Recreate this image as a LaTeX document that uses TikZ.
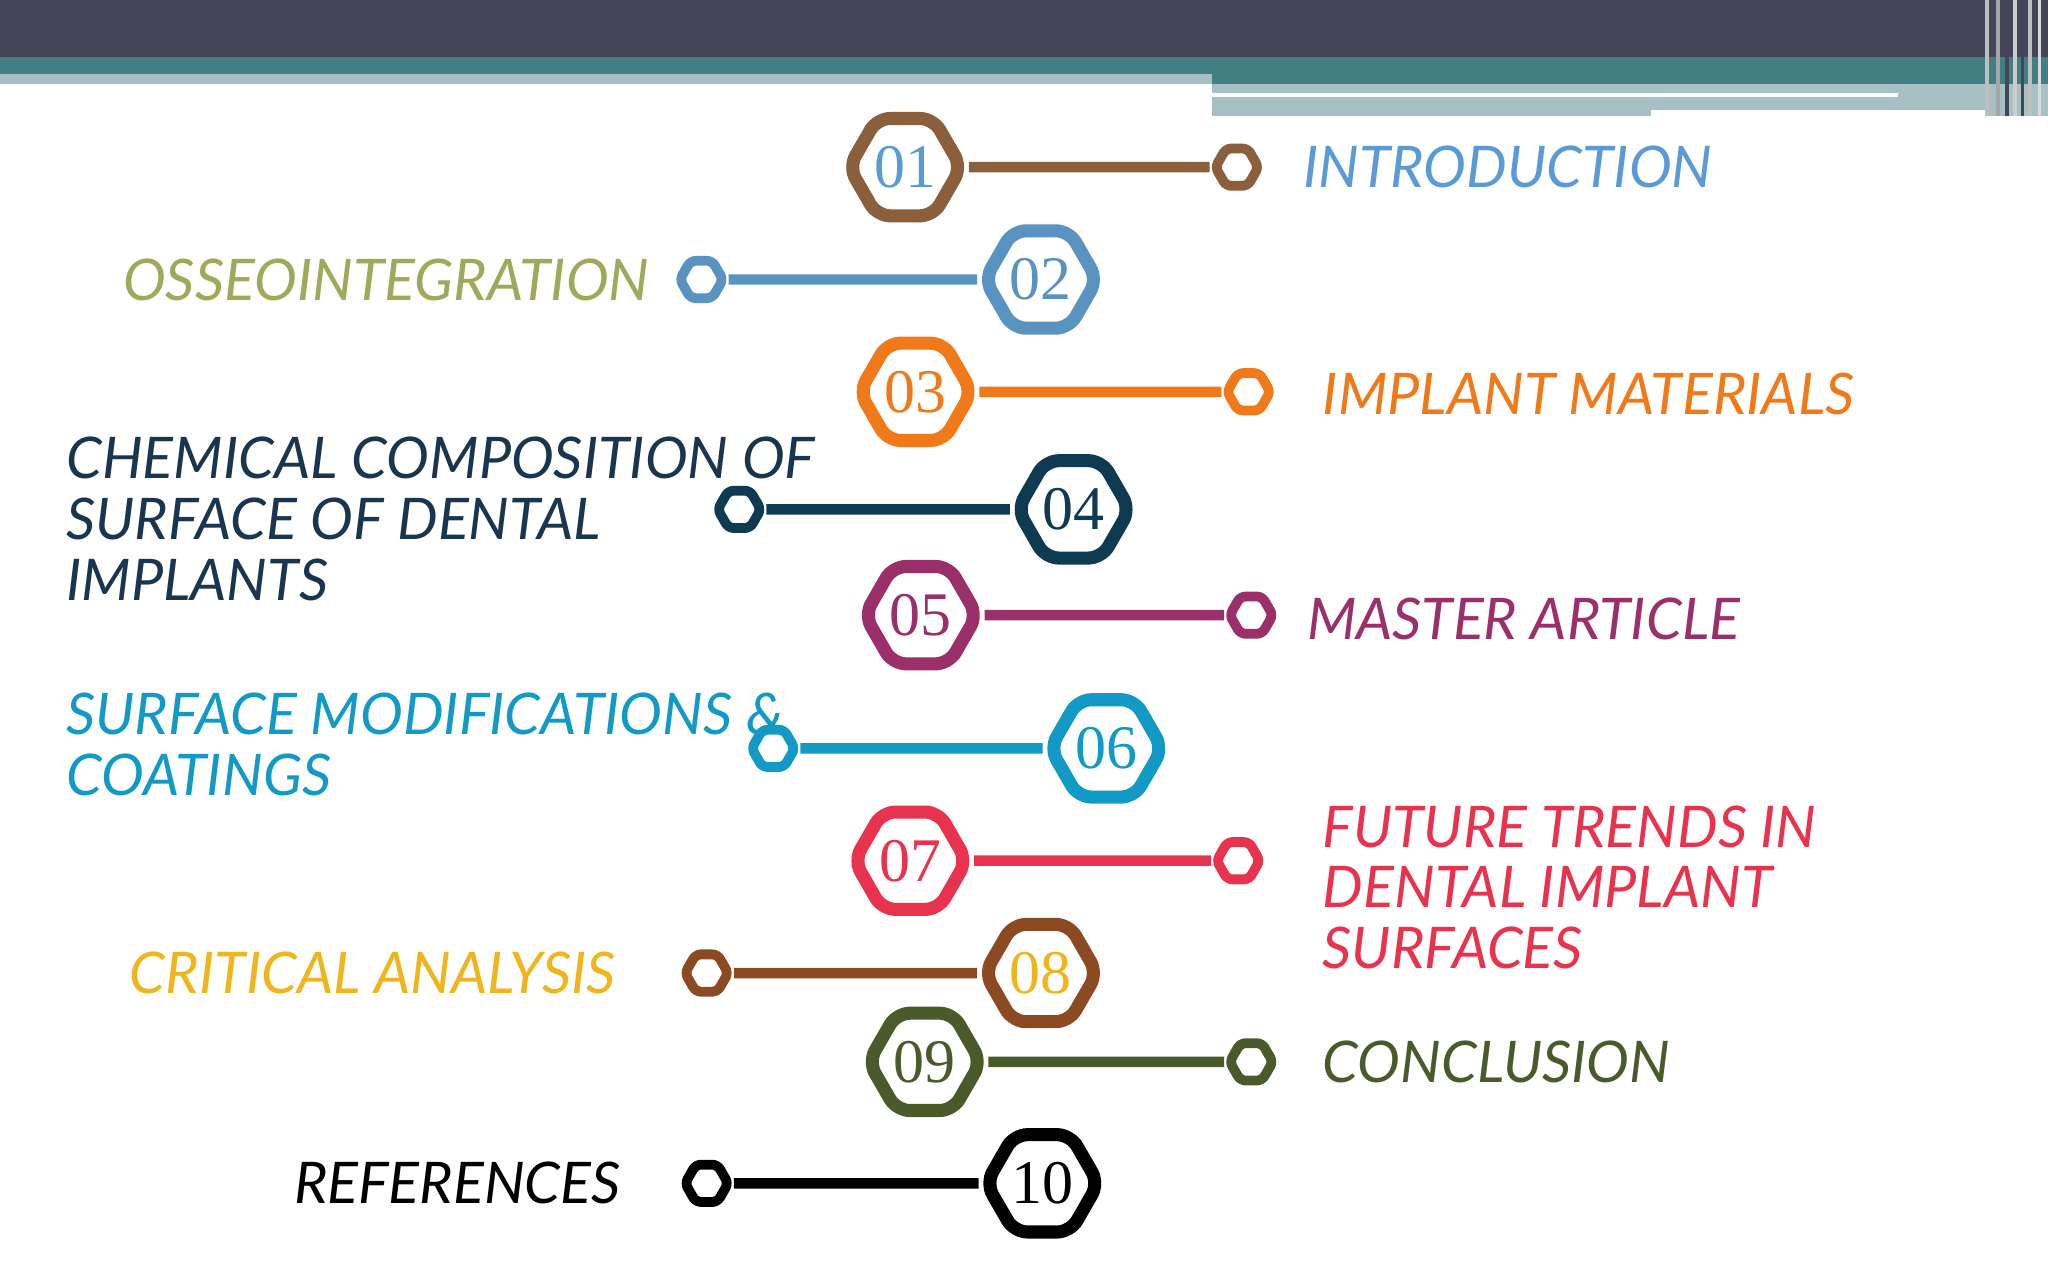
\documentclass[tikz,border=0pt]{standalone}
\usepackage{fontspec}
\setmainfont{Lato}
\newfontfamily\numfont{Liberation Serif}
\usetikzlibrary{shapes.geometric}
\begin{document}
\begin{tikzpicture}[x=0.01cm,y=-0.01cm,
  bighex/.style={regular polygon,regular polygon sides=6,minimum size=0.86cm,inner sep=0pt,line width=0.1cm,rounded corners=0.1cm,draw=#1,fill=white,font=\numfont\fontsize{13.5}{14}\selectfont},
  smallhex/.style={regular polygon,regular polygon sides=6,minimum size=0.33cm,inner sep=0pt,line width=0.075cm,rounded corners=0.04cm,draw=#1,fill=white},
  stem/.style={line width=0.08cm,draw=#1},
  lbl/.style={font=\itshape\fontsize{12.5}{13.2}\selectfont,inner sep=0pt,align=left}]
\definecolor{c1}{HTML}{8B5E3C}\definecolor{t1}{HTML}{5B9BD5}
\definecolor{c2}{HTML}{5B93C0}\definecolor{t2}{HTML}{9BAB5A}
\definecolor{c3}{HTML}{F07A1A}
\definecolor{c4}{HTML}{0E3A52}\definecolor{t4}{HTML}{1A3550}
\definecolor{c5}{HTML}{9B2F6A}
\definecolor{c6}{HTML}{1399C6}
\definecolor{c7}{HTML}{E8334F}
\definecolor{c8}{HTML}{8B4A22}\definecolor{t8}{HTML}{F0B41C}
\definecolor{c9}{HTML}{4A5A2A}
\definecolor{dark}{HTML}{45455A}\definecolor{teal}{HTML}{427F84}\definecolor{lt}{HTML}{A6C0C4}
\useasboundingbox (0,0) rectangle (1568,980);
% header
\fill[dark] (0,0) rectangle (1568,44);
\fill[teal] (0,44) rectangle (1568,64);
\fill[lt] (0,57) rectangle (928,64);
\fill[lt] (928,64) rectangle (1568,89);
\fill[white] (928,71) rectangle (1453,74);
\fill[white] (1264,84) rectangle (1520,89);
\foreach \x/\c in {1520/gray!50,1528/gray!70,1535/dark,1541/gray!40,1547/dark,1553/gray!50,1560/gray!30}
  \fill[\c] (\x,0) rectangle (\x+3,89);
% items
\node[bighex=c1,text=t1] (b1) at (693,128) {01};
\node[smallhex=c1] (s1) at (947,128) {};
\draw[stem=c1] (b1) -- (s1);
\node[lbl,text=t1,anchor=west] (l1) at (997,128) {INTRODUCTION};

\node[bighex=c2,text=c2] (b2) at (797,214) {02};
\node[smallhex=c2] (s2) at (537,214) {};
\draw[stem=c2] (s2) -- (b2);
\node[lbl,text=t2,anchor=east] (l2) at (498,214) {OSSEOINTEGRATION};

\node[bighex=c3,text=c3] (b3) at (701,300) {03};
\node[smallhex=c3] (s3) at (956,300) {};
\draw[stem=c3] (b3) -- (s3);
\node[lbl,text=c3,anchor=west] (l3) at (1012,302) {IMPLANT MATERIALS};

\node[bighex=c4,text=c4] (b4) at (822,390) {04};
\node[smallhex=c4] (s4) at (566,390) {};
\draw[stem=c4] (s4) -- (b4);
\node[lbl,text=t4,anchor=north west] (l4) at (50,334) {CHEMICAL COMPOSITION OF\\SURFACE OF DENTAL\\IMPLANTS};

\node[bighex=c5,text=c5] (b5) at (705,471) {05};
\node[smallhex=c5] (s5) at (958,471) {};
\draw[stem=c5] (b5) -- (s5);
\node[lbl,text=c5,anchor=west] (l5) at (1000,474) {MASTER ARTICLE};

\node[bighex=c6,text=c6] (b6) at (847,573) {06};
\node[smallhex=c6] (s6) at (592,573) {};
\draw[stem=c6] (s6) -- (b6);
\node[lbl,text=c6,anchor=north west] (l6) at (50,530) {SURFACE MODIFICATIONS \&\\COATINGS};

\node[bighex=c7,text=c7] (b7) at (697,659) {07};
\node[smallhex=c7] (s7) at (948,659) {};
\draw[stem=c7] (b7) -- (s7);
\node[lbl,text=c7,anchor=north west] (l7) at (1012,616) {FUTURE TRENDS IN\\DENTAL IMPLANT\\SURFACES};

\node[bighex=c8,text=t8] (b8) at (797,745) {08};
\node[smallhex=c8] (s8) at (541,745) {};
\draw[stem=c8] (s8) -- (b8);
\node[lbl,text=t8,anchor=east] (l8) at (472,745) {CRITICAL ANALYSIS};

\node[bighex=c9,text=c9] (b9) at (708,813) {09};
\node[smallhex=c9] (s9) at (958,813) {};
\draw[stem=c9] (b9) -- (s9);
\node[lbl,text=c9,anchor=west] (l9) at (1012,813) {CONCLUSION};

\node[bighex=black,text=black] (b10) at (798,906) {10};
\node[smallhex=black] (s10) at (541,906) {};
\draw[stem=black] (s10) -- (b10);
\node[lbl,text=black,anchor=east] (l10) at (476,906) {REFERENCES};
\end{tikzpicture}
\end{document}
